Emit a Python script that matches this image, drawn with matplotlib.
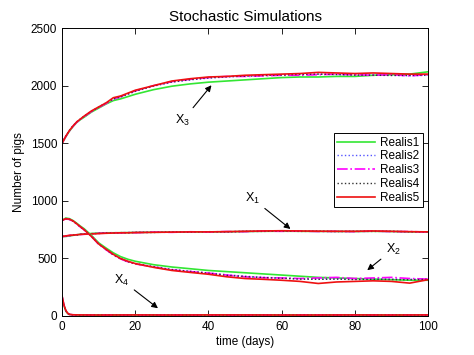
import numpy as np
import matplotlib.pyplot as plt

plt.rcParams['font.family'] = ['Liberation Sans', 'DejaVu Sans']
plt.rcParams['mathtext.default'] = 'regular'

# time grid (days)
t = [0, 1, 2, 3, 4, 5, 6, 8, 10, 12, 14, 16, 18, 20, 25, 30, 35, 40, 45, 50,
     55, 60, 65, 70, 75, 80, 85, 90, 95, 100]
t4 = [0, 0.5, 1, 1.5, 2, 3, 5, 10, 20, 30, 40, 50, 60, 70, 80, 90, 100]

labels = ['Realis1', 'Realis2', 'Realis3', 'Realis4', 'Realis5']

# X1
x1_r1 = [690, 690, 695, 700, 704, 710, 712, 716, 720, 722, 722, 723, 724, 725, 727,
         728, 729, 730, 731, 733, 735, 736, 735, 734, 734, 733, 735, 733, 730, 730]
x1_r2 = [692, 694, 698, 703, 706, 708, 711, 714, 717, 720, 721, 722, 723, 725, 726,
         727, 730, 731, 730, 734, 736, 737, 736, 735, 733, 734, 736, 734, 731, 729]
x1_r3 = [688, 693, 699, 701, 705, 707, 709, 713, 718, 719, 723, 721, 725, 723, 728,
         726, 731, 729, 733, 732, 737, 735, 737, 733, 735, 732, 737, 732, 733, 728]
x1_r4 = [691, 695, 697, 702, 703, 709, 710, 715, 716, 721, 720, 724, 722, 726, 725,
         729, 728, 732, 730, 735, 734, 738, 734, 736, 733, 735, 734, 735, 731, 731]
x1_r5 = [690, 695, 700, 702, 705, 708, 710, 712, 715, 718, 720, 722, 722, 724, 726,
         728, 730, 730, 732, 735, 738, 740, 738, 736, 735, 735, 738, 735, 732, 730]

# X2
x2_r1 = [830, 850, 845, 828, 805, 780, 758, 700, 635, 590, 548, 515, 492, 475, 445,
         425, 410, 395, 385, 375, 365, 355, 345, 335, 330, 325, 320, 315, 310, 310]
x2_r2 = [832, 846, 840, 824, 800, 774, 750, 694, 626, 578, 532, 498, 472, 455, 428,
         404, 388, 374, 358, 345, 335, 330, 322, 320, 322, 318, 322, 320, 318, 322]
x2_r3 = [830, 842, 838, 822, 798, 772, 748, 692, 622, 575, 530, 495, 470, 452, 425,
         400, 385, 372, 355, 340, 332, 330, 325, 330, 335, 325, 330, 335, 325, 320]
x2_r4 = [828, 844, 839, 823, 799, 773, 749, 693, 624, 577, 531, 497, 471, 454, 426,
         402, 386, 370, 352, 342, 333, 327, 320, 318, 320, 316, 318, 316, 314, 318]
x2_r5 = [830, 845, 840, 825, 800, 775, 750, 690, 625, 580, 535, 498, 475, 455, 422,
         395, 378, 362, 340, 325, 318, 310, 300, 282, 295, 300, 305, 300, 285, 315]

# X3
x3_r1 = [1500, 1555, 1605, 1645, 1680, 1705, 1725, 1770, 1805, 1840, 1870, 1885, 1905,
         1925, 1965, 1995, 2015, 2030, 2040, 2050, 2060, 2070, 2075, 2075, 2080, 2080,
         2090, 2095, 2100, 2120]
x3_r2 = [1500, 1560, 1608, 1650, 1682, 1708, 1732, 1776, 1812, 1848, 1880, 1900, 1925,
         1950, 1995, 2030, 2050, 2065, 2075, 2085, 2090, 2095, 2095, 2100, 2095, 2090,
         2095, 2090, 2085, 2090]
x3_r3 = [1500, 1558, 1606, 1648, 1683, 1706, 1730, 1775, 1810, 1845, 1882, 1905, 1930,
         1955, 2000, 2035, 2055, 2070, 2080, 2080, 2085, 2090, 2090, 2095, 2100, 2095,
         2090, 2095, 2085, 2095]
x3_r4 = [1500, 1562, 1612, 1652, 1686, 1710, 1734, 1778, 1813, 1850, 1885, 1902, 1928,
         1952, 1998, 2032, 2052, 2068, 2078, 2082, 2088, 2092, 2098, 2100, 2098, 2092,
         2090, 2088, 2090, 2092]
x3_r5 = [1500, 1560, 1610, 1650, 1685, 1710, 1735, 1780, 1815, 1850, 1895, 1910, 1935,
         1960, 2000, 2040, 2060, 2075, 2080, 2090, 2095, 2100, 2105, 2115, 2110, 2105,
         2110, 2105, 2100, 2100]

# X4
x4_r1 = [165, 90, 45, 22, 12, 9, 8, 8, 9, 8, 9, 8, 9, 8, 9, 8, 9]
x4_r2 = [168, 92, 46, 23, 13, 9, 8, 9, 8, 9, 8, 9, 8, 9, 8, 9, 8]
x4_r3 = [170, 95, 48, 24, 13, 10, 9, 8, 9, 9, 8, 8, 9, 9, 8, 8, 9]
x4_r4 = [166, 91, 44, 21, 12, 9, 8, 9, 9, 8, 8, 9, 9, 8, 9, 9, 8]
x4_r5 = [172, 96, 50, 25, 14, 10, 9, 8, 9, 8, 9, 9, 8, 8, 9, 8, 9]

styles = [
    dict(color='#33e633', linestyle='-', linewidth=1.2),
    dict(color='#5555ff', linestyle=':', linewidth=1.0),
    dict(color='#ff00ff', linestyle='-.', linewidth=1.2),
    dict(color='#333333', linestyle=':', linewidth=1.0),
    dict(color='#ee1111', linestyle='-', linewidth=1.2),
]

fig = plt.figure(figsize=(4.74, 3.55), dpi=100)
ax = fig.add_axes([0.131, 0.110, 0.772, 0.811])

groups = [
    (t, [x1_r1, x1_r2, x1_r3, x1_r4, x1_r5]),
    (t, [x2_r1, x2_r2, x2_r3, x2_r4, x2_r5]),
    (t, [x3_r1, x3_r2, x3_r3, x3_r4, x3_r5]),
    (t4, [x4_r1, x4_r2, x4_r3, x4_r4, x4_r5]),
]
for gi, (tt, series) in enumerate(groups):
    for k, y in enumerate(series):
        ax.plot(tt, y, label=labels[k] if gi == 0 else None, **styles[k])

ax.set_xlim(0, 100)
ax.set_ylim(0, 2500)
ax.set_xticks([0, 20, 40, 60, 80, 100])
ax.set_yticks([0, 500, 1000, 1500, 2000, 2500])
ax.tick_params(direction='in', top=True, right=True, length=4, labelsize=8.5, width=0.6)
for s in ax.spines.values():
    s.set_linewidth(0.7)

ax.set_title('Stochastic Simulations', fontsize=11, pad=5)
ax.set_xlabel('time (days)', fontsize=8.5, labelpad=2)
ax.set_ylabel('Number of pigs', fontsize=8.5, labelpad=4)

arrow = dict(arrowstyle='-|>', color='black', lw=0.8, mutation_scale=9)
ax.annotate('X$_3$', xy=(41.3, 2022), xytext=(33, 1700), fontsize=9,
            ha='center', va='center', arrowprops=arrow)
ax.annotate('X$_1$', xy=(63, 740), xytext=(52, 1020), fontsize=9,
            ha='center', va='center', arrowprops=arrow)
ax.annotate('X$_2$', xy=(82.8, 382), xytext=(90.5, 580), fontsize=9,
            ha='center', va='center', arrowprops=arrow)
ax.annotate('X$_4$', xy=(26.8, 52), xytext=(16.3, 310), fontsize=9,
            ha='center', va='center', arrowprops=arrow)

leg = ax.legend(loc='upper right', bbox_to_anchor=(0.985, 0.635), fontsize=8.5,
                handlelength=3.2, borderpad=0.3, labelspacing=0.15,
                handletextpad=0.4, fancybox=False, framealpha=1,
                edgecolor='black', borderaxespad=0)
leg.get_frame().set_linewidth(0.7)

plt.savefig('out.png', dpi=100)
